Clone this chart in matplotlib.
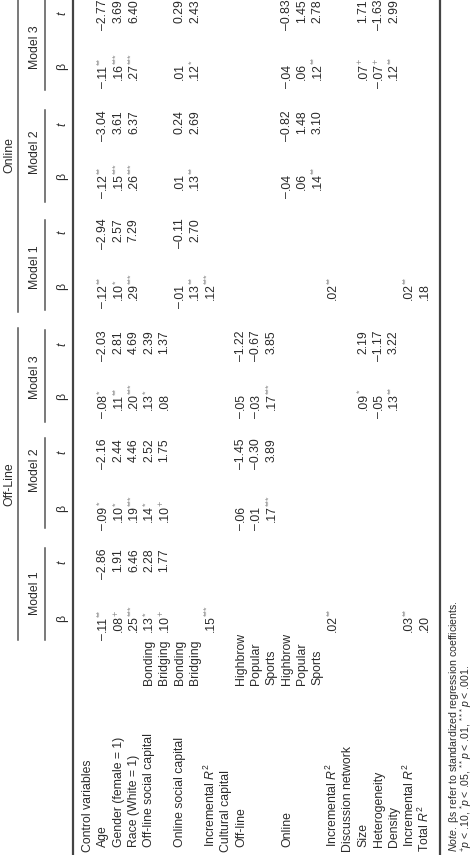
import matplotlib
matplotlib.use("Agg")
import matplotlib.pyplot as plt

plt.rcParams['font.family'] = ['Liberation Sans', 'DejaVu Sans']
plt.rcParams['mathtext.fontset'] = 'custom'
plt.rcParams['mathtext.rm'] = 'Liberation Sans'
plt.rcParams['mathtext.it'] = 'Liberation Sans:italic'

# row labels: (text, level)  level 0 = main, 1 = indented
row_labels = [
    ("Control variables", 0), ("Age", 1), ("Gender (female = 1)", 1), ("Race (White = 1)", 1),
    ("Off-line social capital", 1), ("", 1), ("Online social capital", 1), ("", 1),
    ("Incremental $R^2$", 1), ("Cultural capital", 0), ("Off-line", 1), ("", 1), ("", 1),
    ("Online", 1), ("", 1), ("", 1), ("Incremental $R^2$", 1), ("Discussion network", 0),
    ("Size", 1), ("Heterogeneity", 1), ("Density", 1), ("Incremental $R^2$", 1), ("Total $R^2$", 0),
]
sub_labels = ["", "", "", "", "Bonding", "Bridging", "Bonding", "Bridging", "", "",
              "Highbrow", "Popular", "Sports", "Highbrow", "Popular", "Sports",
              "", "", "", "", "", "", ""]

N = None
off_m1_b = [N, "-.11**", ".08+", ".25***", ".13*", ".10+", N, N, ".15***", N, N, N, N, N, N, N, ".02**", N, N, N, N, ".03**", ".20"]
off_m1_t = [N, "-2.86", "1.91", "6.46", "2.28", "1.77"] + [N] * 17
off_m2_b = [N, "-.09*", ".10*", ".19***", ".14*", ".10+", N, N, N, N, "-.06", "-.01", ".17***"] + [N] * 10
off_m2_t = [N, "-2.16", "2.44", "4.46", "2.52", "1.75", N, N, N, N, "-1.45", "-0.30", "3.89"] + [N] * 10
off_m3_b = [N, "-.08*", ".11**", ".20***", ".13*", ".08", N, N, N, N, "-.05", "-.03", ".17***",
            N, N, N, N, N, ".09*", "-.05", ".13**", N, N]
off_m3_t = [N, "-2.03", "2.81", "4.69", "2.39", "1.37", N, N, N, N, "-1.22", "-0.67", "3.85",
            N, N, N, N, N, "2.19", "-1.17", "3.22", N, N]
on_m1_b = [N, "-.12**", ".10*", ".29***", N, N, "-.01", ".13**", ".12***", N, N, N, N, N, N, N,
           ".02**", N, N, N, N, ".02**", ".18"]
on_m1_t = [N, "-2.94", "2.57", "7.29", N, N, "-0.11", "2.70"] + [N] * 15
on_m2_b = [N, "-.12**", ".15***", ".26***", N, N, ".01", ".13**", N, N, N, N, N, "-.04", ".06", ".14**"] + [N] * 7
on_m2_t = [N, "-3.04", "3.61", "6.37", N, N, "0.24", "2.69", N, N, N, N, N, "-0.82", "1.48", "3.10"] + [N] * 7
on_m3_b = [N, "-.11**", ".16***", ".27***", N, N, ".01", ".12*", N, N, N, N, N, "-.04", ".06", ".12**",
           N, N, ".07+", "-.07+", ".12**", N, N]
on_m3_t = [N, "-2.77", "3.69", "6.40", N, N, "0.29", "2.43", N, N, N, N, N, "-0.83", "1.45", "2.78",
           N, N, "1.71", "-1.63", "2.99", N, N]

# (beta values, beta anchor, t values, t anchor, model label, label centre, line span)
columns = [
    (off_m1_b, 632, off_m1_t, 548, "Model 1", 593, (640, 548)),
    (off_m2_b, 522, off_m2_t, 438, "Model 2", 470, (528, 438)),
    (off_m3_b, 410, off_m3_t, 330, "Model 3", 377, (422, 330)),
    (on_m1_b, 300, on_m1_t, 218, "Model 1", 267, (310, 220)),
    (on_m2_b, 190, on_m2_t, 110, "Model 2", 152, (202, 110)),
    (on_m3_b, 80, on_m3_t, -1, "Model 3", 47, (90, 0)),
]

W, H = 474, 855
fig = plt.figure(figsize=(W / 100, H / 100), dpi=100)
ax = fig.add_axes([0, 0, 1, 1])
ax.set_xlim(0, W)
ax.set_ylim(H, 0)
ax.axis("off")

TXT = "#2a2a2a"
STAR = "#8a8a8a"
FS = 8.8
row_x = [88 + i * 15.3 for i in range(len(row_labels))]
kw = dict(rotation=90, rotation_mode="anchor", va="center", color=TXT, fontsize=FS)

fig.canvas.draw()
renderer = fig.canvas.get_renderer()
inv = ax.transData.inverted()


def beta(x, y0, s):
    neg = s.startswith("-")
    s = s.lstrip("-")
    num = s.rstrip("*+")
    sup = s[len(num):]
    t = ax.text(x, y0, num, ha="left", **kw)
    if neg:
        ax.text(x, y0 + 1, "–", ha="right", **kw)
    if sup:
        bb = t.get_window_extent(renderer)
        top = inv.transform((0, bb.y1))[1]
        ax.text(x - 3, top + 0.5, sup, rotation=90, rotation_mode="anchor", ha="left",
                va="center", color=STAR, fontsize=FS * 0.75)


def tval(x, y1, s):
    s = s.replace("-", "–")
    ax.text(x, y1, s, ha="right", **kw)


# row labels
for x, (lab, lvl), sub in zip(row_x, row_labels, sub_labels):
    if lab:
        ax.text(x, 852 if lvl == 0 else 847, lab, ha="left", **kw)
    if sub:
        ax.text(x, 685, sub, ha="left", **kw)

# columns
for b_vals, b_y, t_vals, t_y, mlab, mc, (l0, l1) in columns:
    ax.text(35, mc, mlab, ha="center", **kw)
    ax.plot([45, 45], [l0, l1], color="#555555", lw=1.1)
    ax.text(62, b_y - 14, "β", ha="center", **kw)
    ax.text(62, t_y + 14, "$t$", ha="center", **kw)
    for x, b, t in zip(row_x, b_vals, t_vals):
        if b:
            beta(x, b_y, b)
        if t:
            tval(x, t_y, t)

# group headers
ax.text(9, 484, "Off-Line", ha="center", **kw)
ax.plot([18, 18], [640, 328], color="#555555", lw=1.1)
ax.text(9, 155, "Online", ha="center", **kw)
ax.plot([18, 18], [312, 0], color="#555555", lw=1.1)

# rules
ax.plot([73, 73], [0, H], color="#444444", lw=1.6)
ax.plot([440, 440], [0, H], color="#444444", lw=1.6)

# note
ax.text(454, 852, r"$\it{Note.}$ βs refer to standardized regression coefficients.",
        ha="left", **dict(kw, fontsize=7.6))
ax.text(466, 852, r"$^{+}\it{p}$ < .10, $^{*}\it{p}$ < .05, $^{**}\it{p}$ < .01, $^{***}\it{p}$ < .001.",
        ha="left", **dict(kw, fontsize=7.6))

fig.savefig("out.png", dpi=100)
